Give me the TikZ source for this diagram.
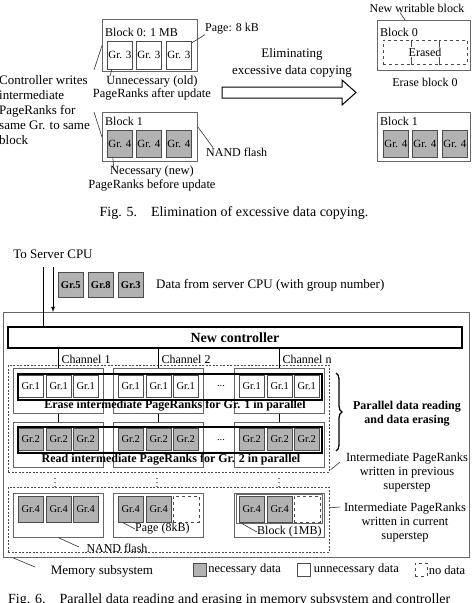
\documentclass[tikz,border=0pt]{standalone}
\usepackage{fontspec}
\setmainfont{Liberation Serif}
\usepackage{tikz}
\usetikzlibrary{positioning,decorations.pathreplacing,arrows}

\newcommand\fntM{\fontsize{13}{15}\selectfont}
\newcommand\fntS{\fontsize{12}{14}\selectfont}
\newcommand\fntG{\fontsize{11}{13}\selectfont}
\newcommand\fntC{\fontsize{10.5}{12}\selectfont}

\tikzset{
  txt/.style={inner sep=0pt, font=\fntM},
  blk/.style={draw=black!60, line width=0.9pt, inner sep=0pt, anchor=north west},
  wcell/.style={draw=black!70, line width=0.6pt, fill=white, inner sep=0pt, anchor=north west, font=\fntG},
  gcell/.style={wcell, fill=black!30},
  ncell/.style={draw=black!70, dashed, line width=0.6pt, inner sep=0pt, anchor=north west},
  dbox/.style={draw=black!70, line width=0.7pt, dash pattern=on 2pt off 1.5pt, inner sep=0pt, anchor=north west},
  thk/.style={draw=black, line width=2pt, inner sep=0pt, anchor=north west},
  tick/.style={draw=black!80, line width=0.6pt}
}

\begin{document}
\begin{tikzpicture}[x=1pt,y=-1pt]
\useasboundingbox (0,0) rectangle (474,603);
% Fig. 5, left side
\node[blk, minimum width=95pt, minimum height=52pt] (b0) at (102,19) {};
\node[txt, font=\fntS, anchor=west] (b0t) at (105,32) {Block 0: 1 MB};
\foreach \x [count=\i] in {107,136,166}
  \node[wcell, minimum width=25pt, minimum height=28pt] (ga\i) at (\x,41) {Gr. 3};
\node[txt, font=\fntS, anchor=west] (pg) at (205,29) {Page: 8 kB};
\draw[tick] ([yshift=-2pt]ga3.north east) -- (pg.south west);

\node[blk, minimum width=95pt, minimum height=49pt] (b1) at (102,112) {};
\node[txt, font=\fntS, anchor=west] (b1t) at (105,121) {Block 1};
\foreach \x [count=\i] in {107,136,166}
  \node[gcell, minimum width=25pt, minimum height=27pt] (gb\i) at (\x,130) {Gr. 4};
\node[txt, font=\fntS, anchor=west] (nf) at (206,152) {NAND flash};
\draw[tick] ([yshift=-15pt]b1.north east) -- ([xshift=7pt]nf.north west);

\node[txt, align=left, anchor=west] (ctl) at (-1,110) {Controller writes\\intermediate\\PageRanks for\\same Gr. to same\\block};
\coordinate (c0) at (94,70);
\coordinate (c1) at (94,112);
\draw[tick] (c0) -- (b0.west);
\draw[tick] (c1) -- (b1.west);

\node[txt, align=center, font=\fontsize{12.5}{13}\selectfont] (un) at (152,88) {Unnecessary (old)\\PageRanks after update};
\coordinate (ua) at (110,76);
\draw[tick] ([xshift=-8pt]ga1.south) -- (ua);
\node[txt, align=center, font=\fontsize{12.5}{14}\selectfont] (ne) at (152,179) {Necessary (new)\\PageRanks before update};
\coordinate (na) at (114,170);
\draw[tick] ([xshift=-7pt]gb1.south) -- (na);

% hollow arrow
\draw[line width=1pt] (222,87) -- (342,87) -- (342,80) -- (356,92.5) -- (342,105) -- (342,98) -- (222,98) -- cycle;
\node[txt, align=center, font=\fontsize{13}{17}\selectfont] (el) at (292,63) {Eliminating\\excessive data copying};

% Fig. 5, right side
\node[txt, font=\fntS] (nw) at (417,8) {New writable block};
\node[blk, minimum width=93pt, minimum height=50pt] (rb0) at (377,20) {};
\draw[tick] ([xshift=-17pt]nw.south) -- ([xshift=28pt]rb0.north west);
\node[txt, font=\fntS, anchor=west] (rb0t) at (380,32) {Block 0};
\foreach \x [count=\i] in {383,411,439}
  \node[ncell, minimum width=28pt, minimum height=24pt] (ez\i) at (\x,40) {};
\node[txt, font=\fntS, fill=white, inner sep=1pt] (er) at (425,52) {Erased};
\node[txt, font=\fntS] (eb) at (425,82) {Erase block 0};

\node[blk, minimum width=93pt, minimum height=49pt] (rb1) at (377,112) {};
\node[txt, font=\fntS, anchor=west] (rb1t) at (380,121) {Block 1};
\foreach \x [count=\i] in {383,412,442}
  \node[gcell, minimum width=25pt, minimum height=27pt] (gc\i) at (\x,130) {Gr. 4};

\node[txt, font=\fontsize{14}{16}\selectfont] (f5) at (234,213) {Fig. 5.\quad Elimination of excessive data copying.};

% Fig. 6
\node[txt] (cpu) at (53,254) {To Server CPU};
\foreach \x/\g [count=\i] in {58/5,88/8,118/3}
  \node[gcell, font=\bfseries\fntC, minimum width=25pt, minimum height=25pt] (d\i) at (\x,272) {Gr.\g};
\node[txt, anchor=west] (dt) at (156,285) {Data from server CPU (with group number)};

\node[blk, line width=0.8pt, minimum width=466pt, minimum height=245pt] (mem) at (3,312) {};
\node[thk, minimum width=454pt, minimum height=21pt, font=\bfseries\fontsize{14}{16}\selectfont] (ctrl) at (7,326) {New controller};
\coordinate (u1) at (43,267);
\coordinate (u2) at (53,267);
\draw[line width=0.8pt] (u1) -- (u1 |- ctrl.north);
\draw[line width=0.8pt,-latex] (u2) -- (u2 |- mem.north);

\node[dbox, minimum width=321pt, minimum height=107pt] (ps) at (8,365) {};
\node[dbox, minimum width=321pt, minimum height=65pt] (cs) at (8,487) {};

\foreach \x [count=\j] in {13,113,234} {
  \node[blk, line width=0.7pt, minimum width=90pt, minimum height=45pt] (ea\j) at (\x,368) {};
  \node[blk, line width=0.7pt, minimum width=90pt, minimum height=45pt] (rd\j) at (\x,422) {};
  \node[blk, line width=0.7pt, minimum width=90pt, minimum height=44pt] (cu\j) at (\x,493) {};
  \foreach \o [count=\k] in {5,33,60} {
    \node[wcell, font=\fntC, minimum width=25pt, minimum height=22pt] (ea\j\k) at (\x+\o,375) {Gr.1};
    \node[gcell, font=\fntC, minimum width=25pt, minimum height=22pt] (rd\j\k) at (\x+\o,428) {Gr.2};
  }
  \foreach \o [count=\k] in {5,33}
    \node[gcell, font=\fntC, minimum width=25pt, minimum height=26pt] (cu\j\k) at (\x+\o,496) {Gr.4};
}
\node[gcell, font=\fntC, minimum width=25pt, minimum height=26pt] (cu13) at (73,496) {Gr.4};
\node[ncell, minimum width=26pt, minimum height=26pt] (cu23) at (173,496) {};
\node[ncell, minimum width=26pt, minimum height=26pt] (cu33) at (294,496) {};
\node[draw=black!60, line width=0.6pt, inner sep=0pt, anchor=north west, minimum width=86pt, minimum height=29pt] (bk) at (236,494) {};

\foreach \j/\n in {1/1,2/2,3/n} {
  \draw[line width=0.6pt] (ea\j.north |- ctrl.south) -- (ea\j.north);
  \draw[line width=0.6pt] (ea\j.south) -- (rd\j.north);
  \node[txt, font=\fntS, anchor=west] (ch\j) at ([xshift=3pt,yshift=-10pt]ea\j.north |- ctrl.south) {Channel \n};
}
\node[txt, font=\fntC] (dd1) at (221,386) {...};
\node[txt, font=\fntC] (dd2) at (221,440) {...};
\node[thk, minimum width=304pt, minimum height=26pt] (fe) at (17,373) {};
\node[thk, minimum width=304pt, minimum height=26pt] (fr) at (17,426) {};
\node[txt, font=\bfseries\fontsize{12}{14}\selectfont] (te) at (175,406) {Erase intermediate PageRanks for Gr. 1 in parallel};
\node[txt, font=\bfseries\fontsize{12}{14}\selectfont] (tr) at (171,460) {Read intermediate PageRanks for Gr. 2 in parallel};
\foreach \x [count=\i] in {55,157,279}
  \node[txt, font=\fontsize{10}{12}\selectfont] (vd\i) at (\x,480) {$\vdots$};

\node[txt, font=\fntS, anchor=west] (pk) at (135,529) {Page (8kB)};
\draw[tick] ([xshift=-8pt]cu21.south) -- (pk.west);
\node[txt, font=\fntS, anchor=west] (bl) at (257,532) {Block (1MB)};
\draw[tick] ([xshift=6pt]bk.south west) -- (bl.west);
\node[txt, font=\fntS] (nf2) at (117,548) {NAND flash};
\coordinate (nfa) at (79,547);
\draw[tick] (cu1.south) -- (nfa);
\node[txt] (ms) at (102,571) {Memory subsystem};
\coordinate (msa) at (35,567);
\draw[tick] ([xshift=10pt]mem.south west) -- (msa);

\coordinate (br1) at (336,373);
\coordinate (br2) at (336,451);
\draw[decorate, decoration={brace, amplitude=6pt}, line width=1.3pt] (br1) -- (br2);
\node[txt, align=center, font=\bfseries\fontsize{12}{14}\selectfont] (pd) at (407,414) {Parallel data reading\\and data erasing};

\node[txt, align=center, font=\fontsize{12.5}{14}\selectfont] (ip) at (407,472) {Intermediate PageRanks\\written in previous\\superstep};
\coordinate (ipa) at (340,462);
\draw[tick] ([xshift=1pt,yshift=3pt]ps.south east) -- (ipa);
\node[txt, align=center, font=\fontsize{12.5}{14}\selectfont] (ic) at (405,522) {Intermediate PageRanks\\written in current\\superstep};
\coordinate (ica) at (340,507);
\draw[tick] ([yshift=12pt]cs.east) -- (ica);

% legend
\node[gcell, minimum width=13pt, minimum height=13pt] (lg1) at (193,563) {};
\node[txt, font=\fontsize{12.5}{14}\selectfont, anchor=west] (lt1) at ([xshift=1.5pt]lg1.east) {necessary data};
\node[wcell, minimum width=13pt, minimum height=13pt] (lg2) at (297,563) {};
\node[txt, font=\fontsize{12.5}{14}\selectfont, anchor=west] (lt2) at ([xshift=3pt]lg2.east) {unnecessary data};
\node[ncell, minimum width=12pt, minimum height=13pt] (lg3) at (415,563) {};
\node[txt, font=\fontsize{12.5}{14}\selectfont, anchor=west] (lt3) at ([xshift=1pt]lg3.east) {no data};

\node[txt, font=\fontsize{14}{16}\selectfont, anchor=base west] (f6) at (8,603) {Fig. 6.\quad Parallel data reading and erasing in memory subsystem and controller};
\end{tikzpicture}
\end{document}
